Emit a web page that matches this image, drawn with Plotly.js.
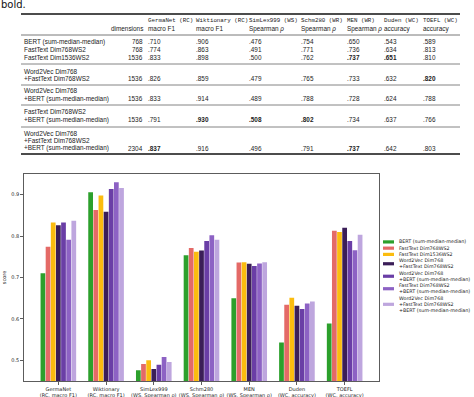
<!DOCTYPE html>
<html>
<head>
<meta charset="utf-8">
<script src="https://cdn.plot.ly/plotly-3.0.1.min.js"></script>
<style>html,body{margin:0;padding:0;background:#fff;}#chart{width:474px;height:397px;}</style>
</head>
<body>
<div id="chart"></div>
<script>
// ---------- data ----------
const tasks = ['GermaNet', 'Wiktionary', 'SimLex999', 'Schm280', 'MEN', 'Duden', 'TOEFL'];
const tableTaskTypes = ['RC', 'RC', 'WS', 'WR', 'WR', 'WC', 'WC'];
const tableMetrics = ['macro F1', 'macro F1', 'Spearman <i>ρ</i>', 'Spearman <i>ρ</i>', 'Spearman <i>ρ</i>', 'accuracy', 'accuracy'];
const chartTaskLabels = ['(RC, macro F1)', '(RC, macro F1)', '(WS, Spearman ρ)', '(WS, Spearman ρ)', '(WS, Spearman ρ)', '(WC, accuracy)', '(WC, accuracy)'];

const modelNames = [
  ['BERT (sum-median-median)'],
  ['FastText Dim768WS2'],
  ['FastText Dim1536WS2'],
  ['Word2Vec Dim768', '+FastText Dim768WS2'],
  ['Word2Vec Dim768', '+BERT (sum-median-median)'],
  ['FastText Dim768WS2', '+BERT (sum-median-median)'],
  ['Word2Vec Dim768', '+FastText Dim768WS2', '+BERT (sum-median-median)']
];
const dimensions = [768, 768, 1536, 1536, 1536, 1536, 2304];

const bertScores      = [0.710, 0.906, 0.476, 0.754, 0.650, 0.543, 0.589];
const ft768Scores     = [0.774, 0.863, 0.491, 0.771, 0.736, 0.634, 0.813];
const ft1536Scores    = [0.833, 0.898, 0.500, 0.762, 0.737, 0.651, 0.810];
const w2vFtScores     = [0.826, 0.859, 0.479, 0.765, 0.733, 0.632, 0.820];
const w2vBertScores   = [0.833, 0.914, 0.489, 0.788, 0.728, 0.624, 0.788];
const ftBertScores    = [0.791, 0.930, 0.508, 0.802, 0.734, 0.637, 0.766];
const w2vFtBertScores = [0.837, 0.916, 0.496, 0.791, 0.737, 0.642, 0.803];

const allScores = [bertScores, ft768Scores, ft1536Scores, w2vFtScores, w2vBertScores, ftBertScores, w2vFtBertScores];
const colors = ['#2ca02c', '#e46a67', '#fbbc0f', '#3b1e58', '#6a3ea6', '#8d62c4', '#bea6de'];

// ---------- helpers (pixel -> paper) ----------
const W = 474, H = 397;
const px = x => x / W;
const py = y => 1 - y / H;

const sansT = 'Liberation Sans, Arial, sans-serif';
const monoT = 'Liberation Mono, DejaVu Sans Mono, monospace';
const mplFont = 'DejaVu Sans, sans-serif';

const annotations = [];
const shapes = [];
function txt(x, y, text, opts) {
  opts = opts || {};
  annotations.push({
    xref: 'paper', yref: 'paper', x: px(x), y: py(y), text: text,
    showarrow: false, xanchor: opts.xanchor || 'left', yanchor: 'middle',
    align: 'left', borderpad: 0,
    font: { family: opts.family || sansT, size: opts.size || 6.4, color: opts.color || '#222' },
    textangle: opts.angle || 0
  });
}
function hline(x0, x1, y, w, c) {
  shapes.push({ type: 'line', xref: 'paper', yref: 'paper', x0: px(x0), x1: px(x1), y0: py(y), y1: py(y),
    line: { color: c, width: w } });
}

// ---------- caption fragment & table ----------
txt(0, 5, 'bold.', { size: 10, family: mplFont, color: '#111' });

const tableLeft = 21, tableRight = 460;
const labelX = 23, dimRightX = 144;
const colX = [147, 195, 248, 300, 346, 383, 422];
hline(tableLeft, tableRight, 14, 1.4, '#111');
hline(tableLeft, tableRight, 35, 0.8, '#555');
hline(tableLeft, tableRight, 154, 1.4, '#111');

// header
txt(dimRightX, 29, 'dimensions', { xanchor: 'right' });
tasks.forEach((t, i) => {
  txt(colX[i], 21, t + ' (' + tableTaskTypes[i] + ')', { family: monoT, size: 5.8 });
  txt(colX[i], 29, tableMetrics[i]);
});

// rows
const rowFirstY = [42, 50, 57, 71, 91, 112, 133];
const lineStep = 7.6;
const groupRules = [64, 85, 105, 127];
groupRules.forEach(y => hline(tableLeft, tableRight, y, 0.8, '#666'));

const best = tasks.map((t, j) => Math.max(...allScores.map(s => s[j])));
modelNames.forEach((lines, m) => {
  lines.forEach((ln, k) => txt(labelX, rowFirstY[m] + k * lineStep, ln));
  const valY = rowFirstY[m] + (lines.length - 1) * lineStep;
  txt(dimRightX, valY, String(dimensions[m]), { xanchor: 'right' });
  allScores[m].forEach((v, j) => {
    let s = v.toFixed(3).slice(1);
    if (v === best[j]) s = '<b>' + s + '</b>';
    txt(colX[j], valY, s);
  });
});

// ---------- manual legend (one text block per entry) ----------
const legFont = 4.8, legLine = legFont * 1.3;
let legTop = 238.8;
modelNames.forEach((lines, m) => {
  const h = lines.length * legLine;
  const mid = legTop + h / 2;
  txt(398, mid, lines.join('<br>'), { family: mplFont, size: legFont, color: '#222' });
  shapes.push({ type: 'rect', xref: 'paper', yref: 'paper', x0: px(383), x1: px(394), y0: py(mid - 1.6), y1: py(mid + 1.6),
    fillcolor: colors[m], line: { width: 0 } });
  legTop += h;
});

// ---------- bars ----------
const xLabels = tasks.map((t, i) => t + '<br>' + chartTaskLabels[i]);
const traces = allScores.map((s, m) => ({
  type: 'bar', x: xLabels, y: s, name: modelNames[m].join(' '),
  marker: { color: colors[m], line: { width: 0 } }, showlegend: false
}));

const layout = {
  width: W, height: H,
  margin: { l: 0, r: 0, t: 0, b: 0 },
  paper_bgcolor: '#fff', plot_bgcolor: '#fff',
  barmode: 'group', bargap: 0.245, bargroupgap: 0.08,
  showlegend: false,
  xaxis: {
    domain: [px(24), px(379)], anchor: 'y',
    range: [-0.72, 6.72], showgrid: false, zeroline: false,
    showline: true, linecolor: '#333', linewidth: 0.8, mirror: true,
    ticks: 'outside', ticklen: 3, tickwidth: 0.8, tickcolor: '#333',
    tickfont: { family: mplFont, size: 5, color: '#222' }, automargin: false
  },
  yaxis: {
    domain: [1 - 381 / H, 1 - 174 / H], anchor: 'x',
    range: [0.45, 0.95], showgrid: false, zeroline: false,
    showline: true, linecolor: '#333', linewidth: 0.8, mirror: true,
    ticks: 'outside', ticklen: 3, tickwidth: 0.8, tickcolor: '#333',
    tickvals: [0.5, 0.6, 0.7, 0.8, 0.9], ticktext: ['0.5', '0.6', '0.7', '0.8', '0.9'],
    tickfont: { family: mplFont, size: 5, color: '#222' }, automargin: false,
    title: { text: 'score', font: { family: mplFont, size: 5, color: '#222' }, standoff: 4 }
  },
  annotations: annotations,
  shapes: shapes
};

Plotly.newPlot('chart', traces, layout, { displayModeBar: false, staticPlot: true });
</script>
</body>
</html>
